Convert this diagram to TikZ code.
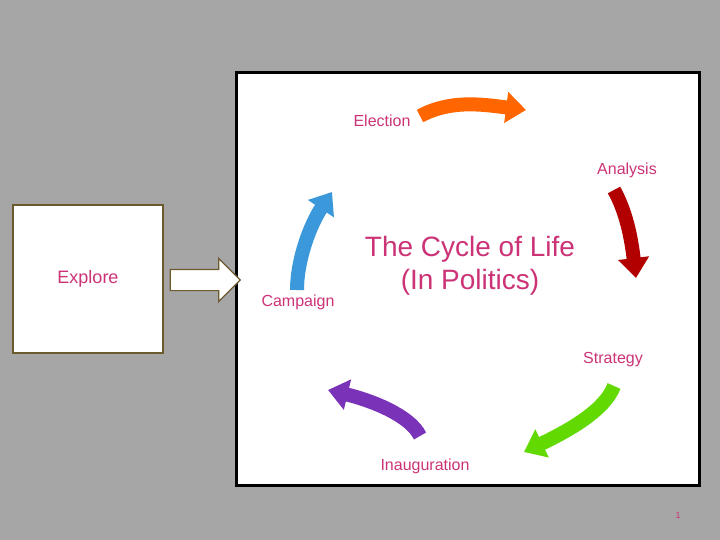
\documentclass[tikz,border=0pt]{standalone}
\usepackage{fontspec}
\setmainfont{Liberation Sans}
\usetikzlibrary{arrows.meta,positioning,shapes.arrows}
\definecolor{slidegray}{HTML}{A6A6A6}
\definecolor{txtpink}{HTML}{CC3377}
\definecolor{boxbrown}{HTML}{6B5A2E}
\begin{document}
\begin{tikzpicture}[x=1pt,y=-1pt]
    \tikzset{lbl/.style={text=txtpink,font=\fontsize{16}{18}\selectfont},
      cyc/.style={line width=14pt,-{Triangle[length=20pt,width=30pt]},draw=#1}}
    \fill[slidegray] (0,0) rectangle (720,540);
    \node[draw=boxbrown,line width=1.5pt,fill=white,minimum width=150pt,minimum height=148pt,
      text=txtpink,font=\fontsize{18}{20}\selectfont] (explore) at (88,279) {Explore};
    \node[draw=black,line width=2.5pt,fill=white,minimum width=463pt,minimum height=413pt] (cycle) at (468,279) {};
    \node[single arrow,draw=boxbrown,line width=1.2pt,fill=white,minimum height=70pt,
      inner xsep=0pt,inner ysep=10pt,single arrow head extend=11pt] (go) at (200,280) {};
    \node[text=txtpink,font=\fontsize{28}{33}\selectfont,align=center] (title) at (470,266) {The Cycle of Life\\(In Politics)};
    \node[lbl] (el) at (382,121) {Election};
    \node[lbl] (an) at (627,170) {Analysis};
    \node[lbl] (st) at (613,360) {Strategy};
    \node[lbl] (in) at (425,466) {Inauguration};
    \node[lbl] (ca) at (298,302) {Campaign};
    \coordinate (o1) at (420,116); \coordinate (o2) at (526,110);
    \coordinate (r1) at (614,190); \coordinate (r2) at (636,278);
    \coordinate (g1) at (614,386); \coordinate (g2) at (524,452);
    \coordinate (p1) at (420,436); \coordinate (p2) at (328,390);
    \coordinate (b1) at (297,290); \coordinate (b2) at (332,192);
    \draw[cyc=orange!80!red] (o1) .. controls (450,100) and (480,104) .. (o2);
    \draw[cyc=red!70!black] (r1) .. controls (628,215) and (632,245) .. (r2);
    \draw[cyc=green!55!yellow!85!black] (g1) .. controls (605,410) and (570,430) .. (g2);
    \draw[cyc=violet!70!blue!80!white] (p1) .. controls (410,415) and (370,400) .. (p2);
    \draw[cyc=cyan!70!blue!80!white] (b1) .. controls (297,260) and (310,225) .. (b2);
    \node[text=txtpink,font=\fontsize{9}{10}\selectfont] (pg) at (678,515) {1};
\end{tikzpicture}
\end{document}
